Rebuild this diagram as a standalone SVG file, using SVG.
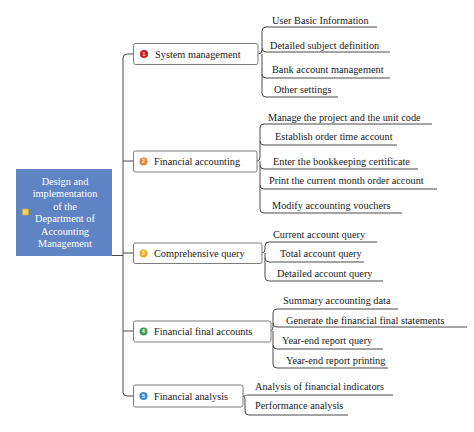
<svg xmlns="http://www.w3.org/2000/svg" width="474" height="432" viewBox="0 0 474 432">
<style>
text{font-family:"Liberation Serif","Times New Roman",serif;font-size:10.3px;fill:#1a1a1a}
.root text{fill:#fff;text-anchor:middle}
.box{fill:#fff;stroke:#7d7d7d;stroke-width:1}
.conn path{fill:none;stroke:#4a4a4a;stroke-width:1}
.num{font-family:"Liberation Sans",Arial,sans-serif;font-size:5px;fill:#fff;text-anchor:middle;font-weight:bold}
</style>
<rect width="474" height="432" fill="#fff"/>
<g class="conn" id="connectors">
<path d="M112,255.5 H123"/>
<path d="M133,54 H127 Q123,54 123,58 V392 Q123,396 127,396 H134"/>
<path d="M123,161 H133"/>
<path d="M123,253 H133"/>
<path d="M123,331 H133"/>
<!-- group 1 -->
<path d="M258,54 Q262,54 262,50 V31 Q262,27 266,27 H377"/>
<path d="M262,54 V93 Q262,97 266,97 H338"/>
<path d="M262,48 Q262,52 266,52 H390"/>
<path d="M262,74 Q262,78 266,78 H390"/>
<!-- group 2 -->
<path d="M257,161 Q260,161 260,157 V128 Q260,124 264,124 H432"/>
<path d="M260,161 V209 Q260,213 264,213 H402"/>
<path d="M260,141 Q260,145 264,145 H397"/>
<path d="M260,165 Q260,169 264,169 H418"/>
<path d="M260,185 Q260,189 264,189 H437"/>
<!-- group 3 -->
<path d="M262,253 Q265,253 265,249 V246 Q265,242 269,242 H377"/>
<path d="M265,253 V277 Q265,281 269,281 H383"/>
<path d="M265,258 Q265,262 269,262 H364"/>
<!-- group 4 -->
<path d="M271,331 Q273,331 273,327 V313 Q273,309 277,309 H398"/>
<path d="M273,331 V364 Q273,368 277,368 H388"/>
<path d="M273,323 Q273,327 277,327 H467"/>
<path d="M273,345 Q273,349 277,349 H383"/>
<!-- group 5 -->
<path d="M243,396 C246,396 245,395 249,395 H393"/>
<path d="M243,396 Q245,396 245,399 V411 Q245,415 249,415 H348"/>
</g>
<g id="root" class="root">
<rect x="16" y="169" width="96" height="87" fill="#5f84c4"/>
<rect x="22.5" y="209" width="6" height="6" rx="1" fill="#f3d36b" stroke="#d9a22a" stroke-width="0.8"/>
<text x="65" y="184.5">Design and</text>
<text x="65" y="197">implementation</text>
<text x="65" y="209.5">of the</text>
<text x="65" y="222">Department of</text>
<text x="65" y="234.5">Accounting</text>
<text x="65" y="246.5">Management</text>
</g>
<g id="n1">
<rect class="box" x="133.5" y="43.5" width="124.5" height="21" rx="2"/>
<circle cx="144" cy="54" r="4" fill="#cc1b1f"/><text class="num" x="144" y="55.8">1</text>
<text x="155" y="57.5">System management</text>
</g>
<g id="n1a"><text x="272" y="24">User Basic Information</text></g>
<g id="n1b"><text x="270" y="48.5">Detailed subject definition</text></g>
<g id="n1c"><text x="272" y="73">Bank account management</text></g>
<g id="n1d"><text x="274" y="92.5">Other settings</text></g>
<g id="n2">
<rect class="box" x="133.5" y="151" width="123.5" height="21" rx="2"/>
<circle cx="143.5" cy="161.5" r="4" fill="#e5843d"/><text class="num" x="143.5" y="163.3">2</text>
<text x="154" y="165">Financial accounting</text>
</g>
<g id="n2a"><text x="268" y="120.5">Manage the project and the unit code</text></g>
<g id="n2b"><text x="275" y="139.5">Establish order time account</text></g>
<g id="n2c"><text x="273" y="164.5">Enter the bookkeeping certificate</text></g>
<g id="n2d"><text x="269" y="184">Print the current month order account</text></g>
<g id="n2e"><text x="272" y="208.5">Modify accounting vouchers</text></g>
<g id="n3">
<rect class="box" x="133.5" y="243" width="128.5" height="20.5" rx="2"/>
<circle cx="143.5" cy="253.5" r="4" fill="#efaa28"/><text class="num" x="143.5" y="255.3">3</text>
<text x="154" y="257">Comprehensive query</text>
</g>
<g id="n3a"><text x="273" y="237.5">Current account query</text></g>
<g id="n3b"><text x="280" y="256.5">Total account query</text></g>
<g id="n3c"><text x="277" y="276.5">Detailed account query</text></g>
<g id="n4">
<rect class="box" x="133.5" y="321" width="137.5" height="21" rx="2"/>
<circle cx="143.5" cy="331.5" r="4" fill="#3b9e5c"/><text class="num" x="143.5" y="333.3">4</text>
<text x="154" y="335">Financial final accounts</text>
</g>
<g id="n4a"><text x="283" y="304">Summary accounting data</text></g>
<g id="n4b"><text x="286" y="323.5">Generate the financial final statements</text></g>
<g id="n4c"><text x="282" y="343.5">Year-end report query</text></g>
<g id="n4d"><text x="286" y="363.5">Year-end report printing</text></g>
<g id="n5">
<rect class="box" x="133.5" y="385" width="109.5" height="22" rx="2"/>
<circle cx="143.5" cy="396" r="4" fill="#3a8ad6"/><text class="num" x="143.5" y="397.8">5</text>
<text x="154" y="399.5">Financial analysis</text>
</g>
<g id="n5a"><text x="255" y="389.5">Analysis of financial indicators</text></g>
<g id="n5b"><text x="255" y="409">Performance analysis</text></g>
</svg>
